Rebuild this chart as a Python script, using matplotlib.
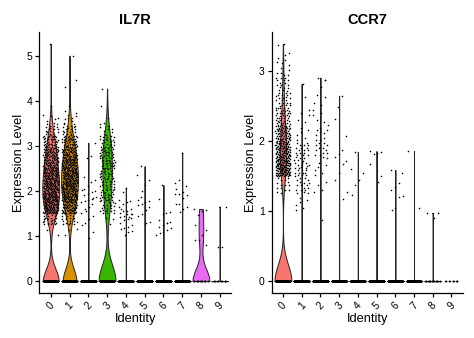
import numpy as np
import matplotlib.pyplot as plt

plt.rcParams['font.family'] = ['Liberation Sans', 'DejaVu Sans']

identities = ['0', '1', '2', '3', '4', '5', '6', '7', '8', '9']
colors = ['#F8766D', '#D89000', '#A3A500', '#39B600', '#00BF7D',
          '#00BFC4', '#00B0F6', '#9590FF', '#E76BF3', '#FF62BC']

# dense clusters: cell counts per 0.25-wide expression bin, bins start at these values
bin_starts = [0.75, 1.0, 1.25, 1.5, 1.75, 2.0, 2.25, 2.5, 2.75, 3.0, 3.25, 3.5, 3.75]
bin_width = 0.25

# ---- IL7R ----
il7r_bins = [
    [0, 2, 25, 80, 85, 80, 75, 60, 55, 35, 18, 6, 1],
    [0, 3, 20, 55, 75, 80, 80, 70, 55, 40, 20, 8, 2],
    [],
    [0, 0, 3, 20, 25, 22, 25, 30, 30, 22, 8, 2, 1],
    [], [], [], [], [], [],
]
il7r_points = [
    [5.26],
    [4.3, 4.45, 5.0],
    [3.07, 2.78, 2.72, 2.3, 2.25, 2.2, 2.12, 2.05, 2.0, 1.97, 1.93, 1.9, 1.87, 1.83, 1.8,
     1.78, 1.75, 1.7, 1.65, 1.6, 1.52, 1.45, 1.38, 1.3, 1.25, 1.1, 0.95, 1.55, 2.02, 1.85],
    [4.27],
    [2.07, 1.97, 1.8, 1.77, 1.75, 1.7, 1.65, 1.6, 1.55, 1.55, 1.52, 1.5, 1.48, 1.45, 1.43,
     1.4, 1.38, 1.35, 1.3, 1.25, 1.2, 1.18, 1.15, 1.12, 1.1, 1.02, 1.6, 1.5, 1.42],
    [2.55, 2.35, 2.24, 2.13, 1.87, 1.8, 1.78, 1.76, 1.72, 1.69, 1.65, 1.57, 1.5, 1.45, 1.32, 1.3, 2.0],
    [2.13, 1.83, 1.54, 1.52, 1.5, 1.35, 1.32, 1.29, 1.25, 1.2, 1.17, 1.13, 1.09, 1.06, 1.02, 1.3],
    [2.85, 2.24, 2.17, 2.1, 1.98, 1.94, 1.94, 1.9, 1.85, 1.72, 1.71, 1.65, 1.6, 1.54, 2.05],
    [1.6, 1.58, 1.55, 1.46, 1.24, 1.13, 1.02, 0.92, 0.92, 0.8],
    [1.65, 0.76, 0.76],
]
il7r_zeros = [200, 170, 450, 165, 320, 290, 250, 190, 22, 16]

# ---- CCR7 ----
ccr7_bins = [
    [0, 0, 15, 110, 90, 70, 40, 25, 18, 8, 2, 0, 0],
    [0, 6, 18, 25, 20, 6, 5, 1, 0, 0, 0, 0, 0],
    [1, 0, 4, 6, 14, 10, 5, 4, 3, 0, 0, 0, 0],
    [], [], [], [], [], [], [],
]
ccr7_points = [
    [3.39],
    [2.82],
    [2.88],
    [2.65, 2.49, 2.32, 2.08, 1.87, 1.82, 1.77, 1.72, 1.68, 1.54, 1.45, 1.27, 1.18],
    [1.85, 1.6, 1.54, 1.44, 1.37, 1.23],
    [1.86, 1.85, 1.83, 1.81, 1.67, 1.5, 1.42],
    [1.59, 1.55, 1.4, 1.35, 1.3, 1.22, 1.2, 1.05, 1.02],
    [1.86, 1.05],
    [0.975, 0.975, 0.9],
    [],
]
ccr7_zeros = [530, 560, 430, 530, 325, 295, 255, 200, 26, 14]

A1, A2 = 0.7548776662, 0.5698402910  # quasi-random (R2) sequence for jitter


def nrd0(kde):
    # R's bw.nrd0; Seurat adds ~1e-5 noise, so mostly-zero clusters get a tiny IQR
    x = kde.dataset.ravel()
    sd = x.std(ddof=1)
    q75, q25 = np.percentile(x, [75, 25])
    lo = min(sd, (q75 - q25) / 1.34)
    if lo == 0:
        lo = 1e-5
    h = 0.9 * lo * len(x) ** -0.2
    return h / sd


def cluster_values(bins, points, zeros):
    out = []
    for k in range(len(identities)):
        vals = [0.0] * zeros[k] + list(points[k])
        for b, c in zip(bin_starts, bins[k]):
            vals += [b + ((j * A2 + 0.5) % 1) * bin_width for j in range(c)]
        out.append(np.array(vals))
    return out


def vln(ax, title, bins, points, zeros, yticks):
    data = cluster_values(bins, points, zeros)
    keep = [k for k in range(len(data)) if np.ptp(data[k]) > 0]
    parts = ax.violinplot([data[k] for k in keep], positions=keep, widths=0.9,
                          showextrema=False, points=600, bw_method=nrd0)
    for body, k in zip(parts['bodies'], keep):
        body.set_facecolor(colors[k])
        body.set_edgecolor('#222222')
        body.set_linewidth(0.7)
        body.set_alpha(1)
    for k in range(len(data)):
        n = len(data[k])
        jit = ((np.arange(n) * A1 + 0.5 + k * 0.37) % 1 - 0.5) * 0.8
        ax.scatter(k + jit, data[k], s=1.3, c='black', linewidths=0, zorder=3)

    ymax = max(d.max() for d in data)
    ax.set_ylim(-0.05 * ymax, 1.05 * ymax)
    ax.set_xlim(-0.6, len(identities) - 0.4)
    ax.set_xticks(range(len(identities)))
    ax.set_xticklabels(identities, rotation=45, ha='center')
    ax.set_yticks(yticks)
    ax.spines['top'].set_visible(False)
    ax.spines['right'].set_visible(False)
    ax.spines['left'].set_linewidth(0.9)
    ax.spines['bottom'].set_linewidth(0.9)
    ax.tick_params(length=3, width=0.9, labelsize=7.5, pad=2, colors='black')
    ax.set_title(title, fontsize=10.5, fontweight='bold', pad=6)
    ax.set_xlabel('Identity', fontsize=9.3, labelpad=1)
    ax.set_ylabel('Expression Level', fontsize=9.3, labelpad=1)


fig = plt.figure(figsize=(4.74, 3.38), dpi=100)
ax1 = fig.add_axes([0.0833, 0.1331, 0.404, 0.772])
ax2 = fig.add_axes([0.5732, 0.1331, 0.403, 0.772])

vln(ax1, 'IL7R', il7r_bins, il7r_points, il7r_zeros, [0, 1, 2, 3, 4, 5])
vln(ax2, 'CCR7', ccr7_bins, ccr7_points, ccr7_zeros, [0, 1, 2, 3])

fig.savefig('out.png', dpi=100)
